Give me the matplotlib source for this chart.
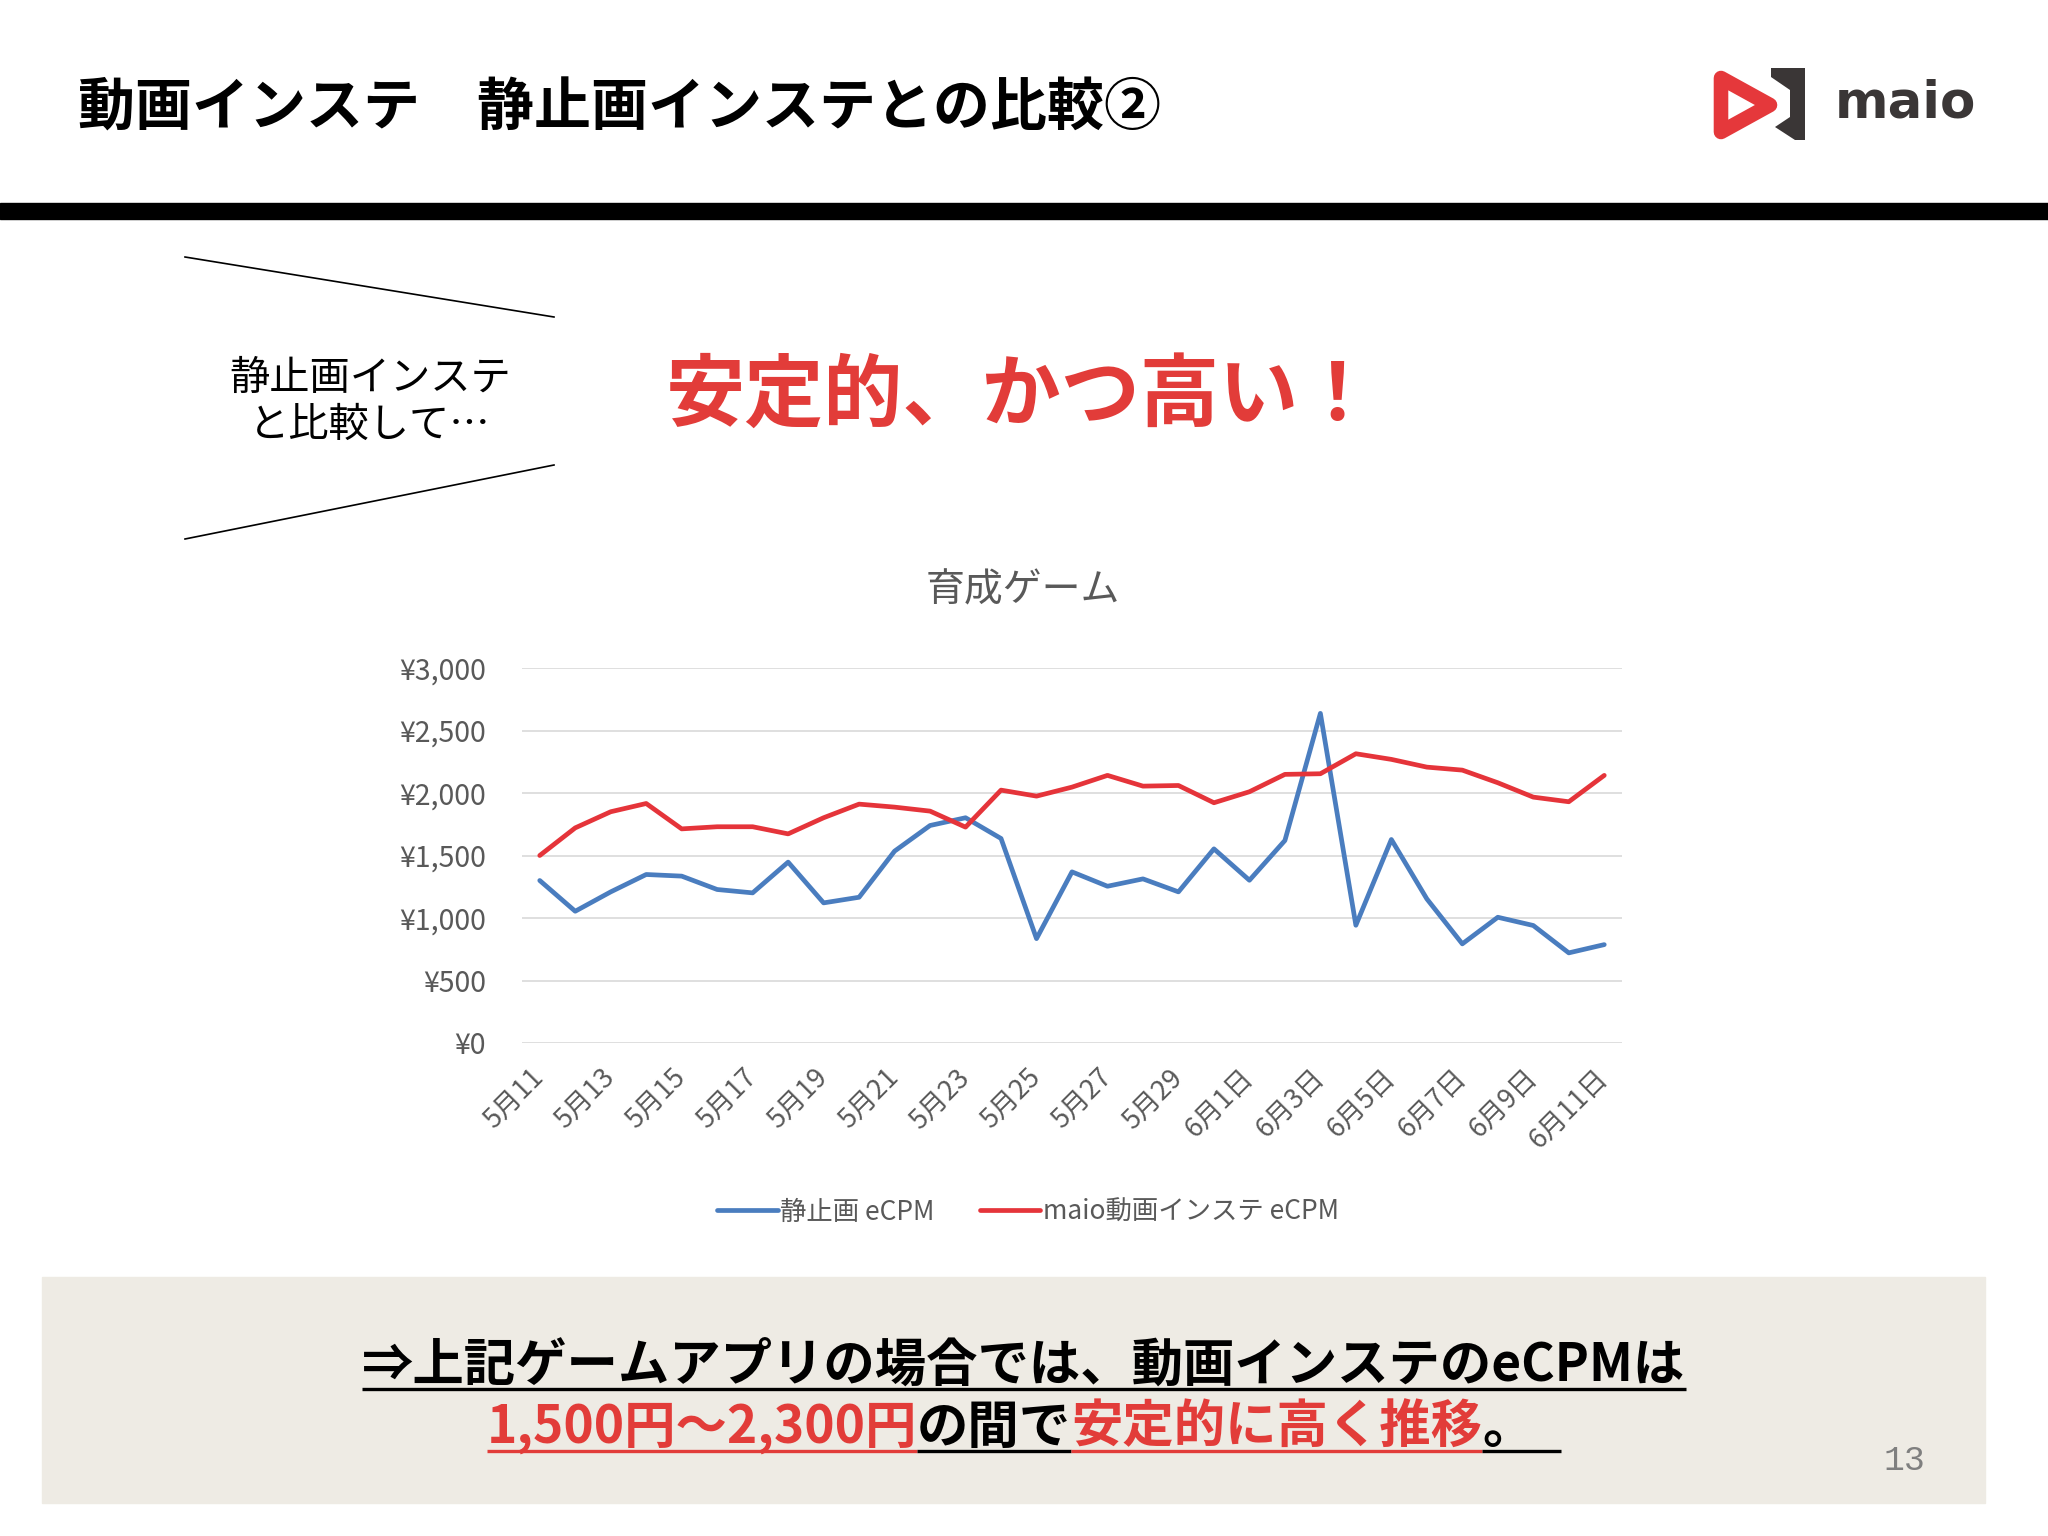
import matplotlib
matplotlib.use('Agg')
import matplotlib.pyplot as plt
from matplotlib.patches import Rectangle, Polygon
from matplotlib.ticker import FuncFormatter

JP = ['Noto Sans CJK JP', 'DejaVu Sans']
plt.rcParams['font.family'] = JP

##################################### data #####################################
dates = ['5月11', '5月12', '5月13', '5月14', '5月15', '5月16', '5月17', '5月18',
         '5月19', '5月20', '5月21', '5月22', '5月23', '5月24', '5月25', '5月26',
         '5月27', '5月28', '5月29', '5月30', '6月1日', '6月2日', '6月3日', '6月4日',
         '6月5日', '6月6日', '6月7日', '6月8日', '6月9日', '6月10日', '6月11日']
still_ecpm = [1300, 1054, 1209, 1348, 1335, 1228, 1201, 1447, 1121, 1166, 1535,
              1740, 1802, 1636, 835, 1369, 1254, 1313, 1209, 1553, 1302, 1620,
              2637, 942, 1628, 1153, 793, 1006, 940, 721, 787]
video_ecpm = [1500, 1721, 1850, 1916, 1713, 1730, 1730, 1673, 1802, 1911, 1887,
              1855, 1727, 2023, 1975, 2047, 2141, 2055, 2060, 1922, 2010, 2149,
              2154, 2314, 2269, 2207, 2183, 2082, 1967, 1930, 2141]
yticks = [0, 500, 1000, 1500, 2000, 2500, 3000]
series_names = ['静止画 eCPM', 'maio動画インステ eCPM']

BLUE = '#4a7dbf'
RED = '#e5343a'
TXT_RED = '#e23c39'
GREY = '#595959'

W, H = 2048, 1536
fig = plt.figure(figsize=(20.48, 15.36), dpi=100)

# full-figure overlay in pixel coords for the slide decoration
bg = fig.add_axes([0, 0, 1, 1], zorder=0)
bg.set_xlim(0, W)
bg.set_ylim(H, 0)
bg.axis('off')

##################################### header ###################################
bg.text(78, 109, '動画インステ　静止画インステとの比較②', fontsize=41,
        fontweight='bold', ha='left', va='center', color='black')
bg.add_patch(Rectangle((0, 203), W, 16, color='black'))

# logo
bg.add_patch(Polygon([[1721, 78], [1770, 105], [1721, 132]], closed=True,
                     fill=False, ec='#e5383b', lw=10.5, joinstyle='round'))
bg.add_patch(Polygon([[1771, 68], [1805, 68], [1805, 140], [1795, 140],
                      [1775, 127], [1790, 117], [1790, 90], [1771, 77]],
                     closed=True, fc='#3a3636', ec='none'))
bg.text(1835, 104, 'maio', fontsize=37, fontweight='bold', family='DejaVu Sans',
        color='#3a3636', ha='left', va='center')

##################################### callout ##################################
bg.plot([185, 554], [257, 317], color='black', lw=1.2)
bg.plot([185, 554], [539, 465], color='black', lw=1.2)
bg.text(370, 378, '静止画インステ', fontsize=29, ha='center', va='center')
bg.text(370, 425, 'と比較して…', fontsize=29, ha='center', va='center')
bg.text(1022, 396, '安定的、かつ高い！', fontsize=57, fontweight='bold',
        color=TXT_RED, ha='center', va='center')

##################################### chart ####################################
ax = fig.add_axes([522 / W, 1 - 1043 / H, 1100 / W, 375 / H], zorder=2)
ax.set_facecolor('none')
x = range(len(dates))
ax.plot(x, still_ecpm, color=BLUE, lw=3.4, solid_joinstyle='round',
        solid_capstyle='round', label=series_names[0])
ax.plot(x, video_ecpm, color=RED, lw=3.4, solid_joinstyle='round',
        solid_capstyle='round', label=series_names[1])
ax.set_xlim(-0.5, len(dates) - 0.5)
ax.set_ylim(0, 3000)
ax.set_yticks(yticks)
ax.yaxis.set_major_formatter(FuncFormatter(lambda v, p: '¥{:,}'.format(int(v))))
ax.grid(axis='y', color='#d9d9d9', lw=1.2)
ax.set_axisbelow(True)
for s in ax.spines.values():
    s.set_visible(False)
ax.set_xticks(list(x)[::2])
ax.set_xticklabels(dates[::2], rotation=45, ha='right', va='center',
                   rotation_mode='anchor')
ax.tick_params(axis='y', length=0, pad=26, labelsize=20.5, labelcolor=GREY)
ax.tick_params(axis='x', length=0, pad=22, labelsize=19.5, labelcolor=GREY)
bg.text(1023, 590, '育成ゲーム', fontsize=28, color=GREY, ha='center', va='center')
fig.legend(loc='center', bbox_to_anchor=(1028 / W, 1 - 1212 / H), ncol=2,
           frameon=False, fontsize=19, labelcolor=GREY, handlelength=2.3,
           handletextpad=0.1, columnspacing=1.7)

##################################### summary box ##############################
bg.add_patch(Rectangle((42, 1277), 1943, 226, color='#eeebe4'))
bg.text(1904, 1460, '13', fontsize=25, family='Liberation Mono', color='#7f7f7f',
        ha='center', va='center')

renderer = fig.canvas.get_renderer()


def underlined(parts, xc, y_base, y_line, size, extra=0):
    texts = []
    for s, c in parts:
        t = bg.text(0, y_base, s, fontsize=size, fontweight='bold', color=c,
                    ha='left', va='baseline')
        texts.append(t)
    widths = [t.get_window_extent(renderer).width for t in texts]
    xpos = xc - (sum(widths) + extra) / 2
    for i, (t, w) in enumerate(zip(texts, widths)):
        t.set_x(xpos)
        w_line = w + (extra if i == len(texts) - 1 else 0)
        bg.plot([xpos, xpos + w_line], [y_line, y_line], color=parts[i][1],
                lw=2.4, solid_capstyle='butt')
        xpos += w


underlined([('⇒上記ゲームアプリの場合では、動画インステのeCPMは', 'black')],
           1024, 1381, 1389, 37)
underlined([('1,500円～2,300円', TXT_RED), ('の間で', 'black'),
            ('安定的に高く推移', TXT_RED), ('。', 'black')],
           1024, 1443, 1451, 37, extra=28)

fig.savefig('out.png', dpi=100)
